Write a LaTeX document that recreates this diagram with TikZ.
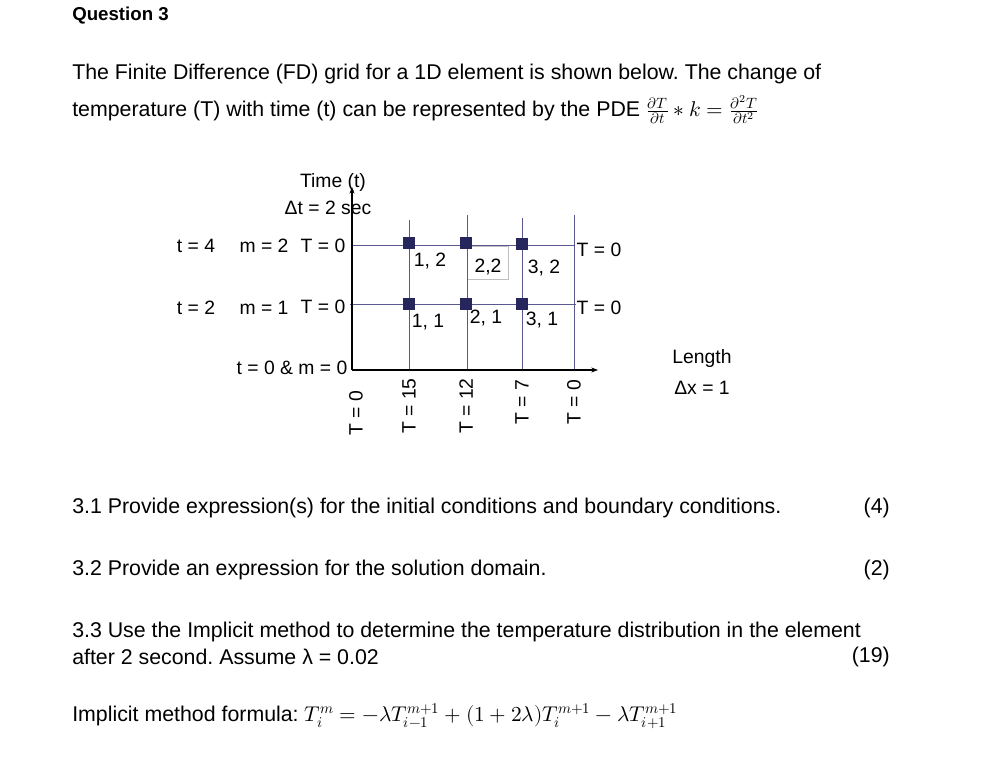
\documentclass[tikz,border=0pt]{standalone}
\usetikzlibrary{arrows.meta}
\usepackage{fontspec}
\usepackage{unicode-math}
\setmainfont{Liberation Sans}
\frenchspacing
\begin{document}
\begin{tikzpicture}[x=0.75pt,y=-0.75pt,
  txt/.style={inner sep=0pt,font=\fontsize{16}{19}\selectfont},
  lbl/.style={inner sep=0pt,font=\fontsize{14.5}{17}\selectfont},
  gl/.style={draw=black!30!blue!30!gray,line width=0.5pt},
  pt/.style={fill=blue!25!black!85,minimum size=9.5pt,inner sep=0pt}]
\useasboundingbox (0,0) rectangle (982,759);
\node[txt,anchor=west,font=\bfseries\fontsize{14}{17}\selectfont] (q) at (72,16) {Question 3};
\node[txt,anchor=west] (p1) at (72,74) {The Finite Difference (FD) grid for a 1D element is shown below. The change of};
\node[txt,anchor=west] (p2) at (72,110) {temperature (T) with time (t) can be represented by the PDE $\frac{\partial T}{\partial t}*k=\frac{\partial^2T}{\partial t^2}$};
% grid
\draw[gl] (409,220) -- (409,370);
\draw[gl] (467,215) -- (467,370);
\draw[gl] (522,218) -- (522,370);
\draw[gl] (574,215) -- (574,370);
\draw[gl] (352,245) -- (574,245);
\draw[gl] (350,304) -- (576,304);
\draw[black!25,line width=0.5pt] (467,246) -- (508,246) -- (508,279) -- (468,279);
\coordinate (o) at (352,370);
\coordinate (ty) at (352,187);
\coordinate (tx) at (598,370);
\draw[-{Stealth[length=5pt]},line width=1pt] (o) -- (ty);
\draw[-{Stealth[length=5pt]},line width=1pt] (o) -- (tx);
\foreach \n/\x/\y in {a/409/243,b/466/243,c/522/244,d/409/304,e/466/304,f/522/304}
  \node[pt] (\n) at (\x,\y) {};
\node[lbl] at (430,261) {1, 2};
\node[lbl] at (488,267) {2,2};
\node[lbl] at (544,268) {3, 2};
\node[lbl] at (428,322) {1, 1};
\node[lbl] at (486,318) {2, 1};
\node[lbl] at (542,320) {3, 1};
\node[lbl] at (196,246) {t = 4};
\node[lbl] at (264,246) {m = 2};
\node[lbl] at (323,246) {T = 0};
\node[lbl] at (196,308) {t = 2};
\node[lbl] at (264,308) {m = 1};
\node[lbl] at (323,307) {T = 0};
\node[lbl] at (292,368) {t = 0 \& m = 0};
\node[lbl] at (333,182) {Time (t)};
\node[lbl] at (328,208) {Δt = 2 sec};
\node[lbl] at (599,250) {T = 0};
\node[lbl] at (599,308) {T = 0};
\node[lbl] at (702,359) {Length};
\node[lbl] at (702,388) {Δx = 1};
\foreach \x/\t/\y in {356/0/436,409/15/434,466/12/434,522/7/425,574/0/425}
  \node[lbl,rotate=90,anchor=west] at (\x,\y) {T = \t};
% questions
\node[txt,anchor=west] at (72,508) {3.1 Provide expression(s) for the initial conditions and boundary conditions.};
\node[txt,anchor=east] at (890,508) {(4)};
\node[txt,anchor=west] at (72,570) {3.2 Provide an expression for the solution domain.};
\node[txt,anchor=east] at (890,570) {(2)};
\node[txt,anchor=west] at (72,632) {3.3 Use the Implicit method to determine the temperature distribution in the element};
\node[txt,anchor=west] at (72,657) {after 2 second. Assume λ = 0.02};
\node[txt,anchor=east] at (890,657) {(19)};
\node[txt,anchor=west] at (72,716) {Implicit method formula: $T_i^m=-\lambda T_{i-1}^{m+1}+(1+2\lambda)T_i^{m+1}-\lambda T_{i+1}^{m+1}$};
\end{tikzpicture}
\end{document}
